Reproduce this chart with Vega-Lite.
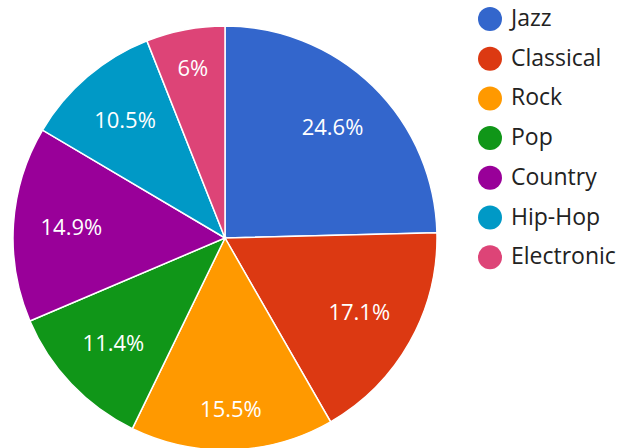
{
  "$schema": "https://vega.github.io/schema/vega-lite/v6.json",
  "width": 450,
  "height": 476,
  "padding": 0,
  "background": "white",
  "config": {"view": {"stroke": null}, "font": "Open Sans"},
  "data": {
    "values": [
      {"genre": "Jazz", "share": 24.6, "idx": 1, "label": "24.6%"},
      {"genre": "Classical", "share": 17.1, "idx": 2, "label": "17.1%"},
      {"genre": "Rock", "share": 15.5, "idx": 3, "label": "15.5%"},
      {"genre": "Pop", "share": 11.4, "idx": 4, "label": "11.4%"},
      {"genre": "Country", "share": 14.9, "idx": 5, "label": "14.9%"},
      {"genre": "Hip-Hop", "share": 10.5, "idx": 6, "label": "10.5%"},
      {"genre": "Electronic", "share": 6, "idx": 7, "label": "6%"}
    ]
  },
  "encoding": {
    "theta": {"field": "share", "type": "quantitative", "stack": true},
    "order": {"field": "idx", "type": "quantitative"}
  },
  "layer": [
    {
      "mark": {"type": "arc", "outerRadius": 212, "stroke": "white", "strokeWidth": 1.5},
      "encoding": {
        "color": {
          "field": "genre",
          "type": "nominal",
          "sort": ["Jazz", "Classical", "Rock", "Pop", "Country", "Hip-Hop", "Electronic"],
          "scale": {
            "domain": ["Jazz", "Classical", "Rock", "Pop", "Country", "Hip-Hop", "Electronic"],
            "range": ["#3366CC", "#DC3912", "#FF9900", "#109618", "#990099", "#0099C6", "#DD4477"]
          },
          "legend": {
            "title": null,
            "orient": "none",
            "legendX": 478,
            "legendY": 7,
            "padding": 0,
            "symbolType": "circle",
            "symbolSize": 576,
            "symbolStrokeWidth": 0,
            "labelFontSize": 23,
            "labelFont": "Open Sans",
            "labelColor": "#222222",
            "labelOffset": 9,
            "rowPadding": 15.7
          }
        }
      }
    },
    {
      "mark": {"type": "text", "radius": 154, "fontSize": 22, "color": "white", "font": "Open Sans"},
      "encoding": {
        "text": {"condition": {"test": "datum.genre != 'Rock' && datum.genre != 'Electronic'", "field": "label"}, "value": ""}
      }
    },
    {
      "mark": {"type": "text", "radius": 172, "fontSize": 22, "color": "white", "font": "Open Sans"},
      "encoding": {
        "text": {"condition": {"test": "datum.genre == 'Rock' || datum.genre == 'Electronic'", "field": "label"}, "value": ""}
      }
    }
  ]
}
